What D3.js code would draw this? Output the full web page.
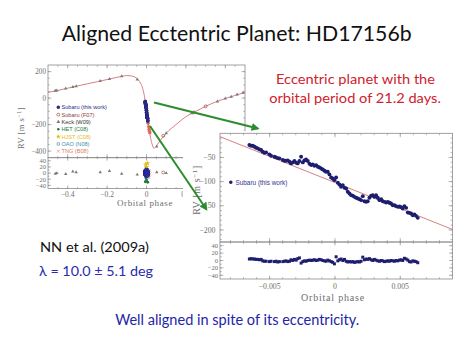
<!DOCTYPE html>
<html><head><meta charset="utf-8">
<script src="https://cdn.jsdelivr.net/npm/d3@7"></script>
<style>body{margin:0;background:#fff}svg{display:block}</style>
</head><body>
<svg id="c" width="474" height="355"></svg>
<script>
// ---------------- DATA ----------------
// Subaru (this work) RM sequence: orbital phase, RV [m/s], residual [m/s]
const subaruPhase = [-0.00655,-0.00642,-0.00629,-0.00616,-0.00604,-0.00591,-0.00578,-0.00565,-0.00553,-0.00540,-0.00527,
 -0.00502,-0.00489,-0.00463,-0.00451,-0.00438,-0.00425,
 -0.00399,-0.00387,-0.00374,-0.00361,-0.00348,-0.00336,-0.00323,-0.00310,-0.00297,-0.00285,
 -0.00272,-0.00259,-0.00246,-0.00234,-0.00221,-0.00208,-0.00195,-0.00182,-0.00170,-0.00157,
 -0.00144,-0.00131,-0.00119,-0.00106,-0.00093,-0.00080,-0.00068,-0.00055,-0.00042,-0.00029,
 -0.00017,-0.00004,0.00009,0.00022,0.00034,0.00047,0.00060,0.00073,0.00086,0.00098,
 0.00111,0.00124,0.00137,0.00149,0.00162,0.00175,0.00188,0.00200,0.00213,0.00226,
 0.00239,0.00251,0.00264,0.00277,0.00290,0.00302,0.00315,0.00328,0.00341,0.00354,
 0.00366,0.00379,0.00392,0.00405,0.00417,0.00430,0.00443,0.00456,0.00468,0.00481,
 0.00494,0.00507,0.00519,0.00532,0.00545,0.00558,0.00570,0.00583,0.00596,0.00609,
 0.00621,0.00634];
const subaruRV = [-24.3,-25.7,-25.7,-27.7,-29.8,-31.2,-33.3,-34.6,-38.1,-40.2,-39.5,
 -43.6,-46.4,-48.5,-49.9,-51.3,-51.9,
 -55.4,-56.8,-56.8,-56.1,-58.9,-62.3,-60.2,-57.5,-60.9,-62.3,
 -57.5,-48.5,-60.2,-56.1,-54.0,-57.5,-63.0,-65.8,-64.4,-67.2,
 -65.8,-69.2,-70.6,-72.7,-74.8,-77.5,-79.6,-79.6,-85.1,-91.4,
 -93.5,-97.0,-91.4,-102.4,-105.9,-110.7,-107.2,-112.8,-114.2,-121.1,
 -124.5,-128.0,-129.4,-131.5,-133.5,-134.9,-136.3,-138.4,-130.1,-140.5,
 -141.9,-140.5,-133.5,-129.4,-128.0,-131.5,-128.0,-133.5,-138.4,-136.3,
 -140.5,-141.9,-143.2,-141.9,-143.9,-145.3,-148.8,-148.8,-150.8,-152.2,
 -151.5,-152.9,-155.7,-150.8,-154.3,-164.0,-164.7,-166.0,-169.5,-168.1,
 -170.9,-175.0];
const subaruRes = [4,5,4,4,3,3,2,3,-1,-2,-2,
 -3,-2,-3,-2,-4,-3,
 -3,-2,-1,-3,-2,2,0,3,1,5,
 7,-7,-3,-1,-2,0,1,0,1,2,
 0,1,3,2,0,-1,-2,1,-1,-3,
 -5,-9,10,-1,2,4,0,3,-2,-4,
 -3,-4,-3,-5,-4,-3,-4,-2,9,2,
 4,3,5,2,0,3,1,-1,-2,0,
 -1,-3,-2,-1,-2,0,-1,-2,0,-1,
 1,2,0,6,4,1,-3,-4,-1,-2,
 -3,-6];

// Orbital model over the full phase range
const curvePhase = [-0.5,-0.45,-0.4,-0.35,-0.3,-0.25,-0.2,-0.15,-0.12,-0.1,-0.08,-0.06,-0.05,-0.04,-0.03,-0.02,-0.01,0,0.01,0.02,0.03,0.037,0.045,0.06,0.08,0.1,0.15,0.2,0.25,0.3,0.35,0.4,0.45,0.5];
const curveRV    = [43,58,75,92,108,124,140,157,166,170,168,160,150,135,112,75,10,-103,-205,-295,-355,-378,-372,-340,-300,-265,-200,-140,-100,-62,-30,-3,20,43];
// Orbital model in the zoomed panel
const zoomModelPhase = [-0.0088, 0.0090];
const zoomModelRV    = [-7, -199];

// Other data sets (left panel)
const keckPhase = [-0.463,-0.455,-0.41,-0.374,-0.357,-0.235,-0.188,-0.126,-0.047,0.052,0.10,0.23,0.36,0.40,0.43,0.46,0.49];
const keckRV    = [55,58,72,84,90,129,144,165,140,-365,-265,-115,-25,-3,10,28,40];
const keckRes   = [-2,0,-3,5,3,3,7,-2,-5,3,0,2,-3,4,0,-2,1];
const f07Phase = [0.085,0.24,0.30];
const f07RV    = [-285,-108,-62];
const f07Res   = [2,3,-4];
const hetPhase = [-0.006,-0.003,0.0,0.002,0.004,0.006,-0.001];
const hetRV    = [-38,-70,-103,-125,-146,-168,-92];
const hetRes   = [-28,-15,-22,-10,12,-30,18];
const hjstPhase = [-0.004,0.001,0.005];
const hjstRV    = [-60,-114,-157];
const hjstRes   = [28,20,32];
const oaoPhase = [-0.005,0.003];
const oaoRV    = [-49,-135];
const oaoRes   = [10,-12];
const tngPhase = [0.008,0.011,0.013,0.015,0.017];
const tngRV    = [-190,-215,-235,-250,-262];
const tngRes   = [-8,5,-15,8,-3];

const legendLabels = ["Subaru (this work)","Subaru (F07)","Keck (W09)","HET (C08)","HJST (C08)","OAO (N08)","TNG (B08)"];
const legendColors = ["#2a2a82","#8a3a3a","#333333","#1d7a3c","#e0c020","#3f8fa8","#e07a66"];

const leftXTicks = [-0.4,-0.2,0,0.2,0.4];
const leftYTicks = [-400,-200,0,200];
const leftResTicks = [-40,-20,0,20,40];
const rightXTicks = [-0.005,0,0.005];
const rightYTicks = [-200,-150,-100,-50];
const rightResTicks = [-40,-20,0,20,40];

// ---------------- DRAW ----------------
const svg = d3.select('#c');
svg.append('rect').attr('width',474).attr('height',355).attr('fill','#fff');
const AX = '#8a8a8a', LAB = '#6e6e6e';
const SERIF = '"Liberation Serif","DejaVu Serif",serif';
const SANS = '"Liberation Sans",Arial,sans-serif';
const LATO = 'Lato,"Open Sans",sans-serif';
const minus = s => String(s).replace('-', '\u2212');

function frame(g, xs, ys, xMaj, xMin, yMaj, yMin, lenMaj, lenMin) {
  const [x0,x1] = xs.range(), [y0,y1] = ys.range();
  g.append('rect').attr('x',x0).attr('y',y1).attr('width',x1-x0).attr('height',y0-y1)
    .attr('fill','none').attr('stroke',AX).attr('stroke-width',0.8);
  const t = g.append('g').attr('stroke',AX).attr('stroke-width',0.6);
  const xt = (vals,len) => vals.forEach(v => { const x = xs(v); if (x<=x0+0.5||x>=x1-0.5) return;
    t.append('line').attr('x1',x).attr('x2',x).attr('y1',y0).attr('y2',y0-len);
    t.append('line').attr('x1',x).attr('x2',x).attr('y1',y1).attr('y2',y1+len); });
  const yt = (vals,len) => vals.forEach(v => { const y = ys(v); if (y>=y0-0.5||y<=y1+0.5) return;
    t.append('line').attr('y1',y).attr('y2',y).attr('x1',x0).attr('x2',x0+len);
    t.append('line').attr('y1',y).attr('y2',y).attr('x1',x1).attr('x2',x1-len); });
  xt(xMin,lenMin); xt(xMaj,lenMaj); yt(yMin,lenMin); yt(yMaj,lenMaj);
}
function sym(type, size){ return d3.symbol().type(type).size(size)(); }

// ----- Left plot -----
const xL = d3.scaleLinear([-0.5,0.5],[48,245]);
const yL = d3.scaleLinear([-450,250],[157.7,65]);
const yLr = d3.scaleLinear([-50,50],[188.5,157.7]);
const gL = svg.append('g');
frame(gL, xL, yL, leftXTicks, d3.range(-0.5,0.51,0.05), leftYTicks, d3.range(-450,251,50), 3.5, 1.8);
frame(gL, xL, yLr, leftXTicks, d3.range(-0.5,0.51,0.05), leftResTicks, d3.range(-50,51,10), 3, 1.5);
gL.append('path').datum(curvePhase.map((p,i)=>[p,curveRV[i]]))
  .attr('d', d3.line().x(d=>xL(d[0])).y(d=>yL(d[1])).curve(d3.curveMonotoneX))
  .attr('fill','none').attr('stroke','#d77070').attr('stroke-width',0.9);

function plotSet(g, xs, ys, ph, vals, type, size, fill, stroke) {
  g.append('g').selectAll('path').data(ph.map((p,i)=>[p,vals[i]])).join('path')
    .attr('d', sym(type,size)).attr('transform', d=>`translate(${xs(d[0])},${ys(d[1])})`)
    .attr('fill', fill).attr('stroke', stroke||'none').attr('stroke-width',0.6);
}
// main
plotSet(gL,xL,yL,keckPhase,keckRV,d3.symbolTriangle,5,'#7a7a7a');
plotSet(gL,xL,yL,f07Phase,f07RV,d3.symbolCircle,7,'none','#8a3a3a');
plotSet(gL,xL,yL,tngPhase,tngRV,d3.symbolCircle,9,'#e06a5a');
plotSet(gL,xL,yL,hetPhase,hetRV,d3.symbolCircle,5,'#1d7a3c');
plotSet(gL,xL,yL,subaruPhase,subaruRV,d3.symbolCircle,9,'#2a2a82');
// residual
plotSet(gL,xL,yLr,keckPhase,keckRes,d3.symbolTriangle,5,'#7a7a7a');
plotSet(gL,xL,yLr,f07Phase,f07Res,d3.symbolCircle,7,'none','#8a3a3a');
plotSet(gL,xL,yLr,hetPhase,hetRes,d3.symbolCircle,7,'#1d7a3c');
plotSet(gL,xL,yLr,hjstPhase,hjstRes,d3.symbolStar,10,'#e0c020');
plotSet(gL,xL,yLr,oaoPhase,oaoRes,d3.symbolSquare,7,'none','#3f8fa8');
plotSet(gL,xL,yLr,tngPhase,tngRes,d3.symbolTimes,7,'none','#e07a66');
plotSet(gL,xL,yLr,subaruPhase,subaruRes,d3.symbolCircle,16,'#2a2a9a');

// legend
const legSyms = [[d3.symbolCircle,10,'#2a2a82',null],[d3.symbolCircle,7,'none','#8a3a3a'],[d3.symbolTriangle,6,'#777',null],
  [d3.symbolCircle,5,'#1d7a3c',null],[d3.symbolStar,8,'#e0c020',null],[d3.symbolSquare,6,'none','#3f8fa8'],[d3.symbolTimes,6,'none','#e07a66']];
const leg = gL.append('g');
legendLabels.forEach((lab,i)=>{
  const y = 107.3 + i*7.33;
  const s = legSyms[i];
  leg.append('path').attr('d',sym(s[0],s[1])).attr('transform',`translate(58.3,${y})`)
    .attr('fill',s[2]).attr('stroke',s[3]||'none').attr('stroke-width',0.6);
  leg.append('text').attr('x',61.5).attr('y',y+2).attr('font-family',SANS).attr('font-size',5.6)
    .attr('fill',legendColors[i]).text(lab);
});
// left tick labels
gL.append('g').selectAll('text').data(leftYTicks).join('text')
  .attr('x',46).attr('y',d=>yL(d)+2.5).attr('text-anchor','end').attr('font-family',SERIF).attr('font-size',7.2)
  .attr('fill',LAB).text(d=>minus(d));
gL.append('g').selectAll('text').data(leftResTicks).join('text')
  .attr('x',46).attr('y',d=>yLr(d)+2.3).attr('text-anchor','end').attr('font-family',SERIF).attr('font-size',6.4)
  .attr('fill',LAB).text(d=>minus(d));
gL.append('g').selectAll('text').data(leftXTicks).join('text')
  .attr('x',d=>xL(d)).attr('y',197).attr('text-anchor','middle').attr('font-family',SERIF).attr('font-size',7.5)
  .attr('fill',LAB).text(d=>minus(d));
gL.append('text').attr('x',145).attr('y',206).attr('text-anchor','middle').attr('font-family',SERIF)
  .attr('font-size',9).attr('letter-spacing',0.6).attr('fill',LAB).text('Orbital phase');
const rvL = gL.append('text').attr('transform','translate(24,128) rotate(-90)').attr('text-anchor','middle')
  .attr('font-family',SERIF).attr('font-size',8.5).attr('letter-spacing',0.5).attr('fill',LAB);
rvL.append('tspan').text('RV [m s');
rvL.append('tspan').attr('dy',-3).attr('font-size',6).text('\u22121');
rvL.append('tspan').attr('dy',3).text(']');

// ----- Right plot -----
const gR = svg.append('g');
gR.append('rect').attr('x',183).attr('y',131).attr('width',291).attr('height',174).attr('fill','#fff');
const xR = d3.scaleLinear([-0.0088,0.0090],[220,452.5]);
const yR = d3.scaleLinear([-225,0],[242,133.3]);
const yRr = d3.scaleLinear([-50,50],[279,242]);
frame(gR, xR, yR, rightXTicks, d3.range(-0.008,0.0091,0.001), rightYTicks, d3.range(-220,1,10), 4, 2);
frame(gR, xR, yRr, rightXTicks, d3.range(-0.008,0.0091,0.001), rightResTicks, d3.range(-50,51,10), 3.5, 1.8);
gR.append('path').datum(zoomModelPhase.map((p,i)=>[p,zoomModelRV[i]]))
  .attr('d', d3.line().x(d=>xR(d[0])).y(d=>yR(d[1])))
  .attr('fill','none').attr('stroke','#d77070').attr('stroke-width',0.9);
plotSet(gR,xR,yR,subaruPhase,subaruRV,d3.symbolCircle,12,'#1e1e6e');
plotSet(gR,xR,yRr,subaruPhase,subaruRes,d3.symbolSquare,9,'#1e1e6e');
// legend
gR.append('path').attr('d',sym(d3.symbolCircle,10)).attr('transform','translate(230.8,182.3)').attr('fill','#1e1e6e');
gR.append('text').attr('x',235.5).attr('y',184.6).attr('font-family',SANS).attr('font-size',6.4)
  .attr('fill','#34348c').text('Subaru (this work)');
// tick labels
gR.append('g').selectAll('text').data(rightYTicks).join('text')
  .attr('x',215.5).attr('y',d=>yR(d)+2.7).attr('text-anchor','end').attr('font-family',SERIF).attr('font-size',7.8)
  .attr('fill',LAB).text(d=>minus(d));
gR.append('g').selectAll('text').data(rightResTicks).join('text')
  .attr('x',218).attr('y',d=>yRr(d)+2.3).attr('text-anchor','end').attr('font-family',SERIF).attr('font-size',6.6)
  .attr('fill',LAB).text(d=>minus(d));
gR.append('g').selectAll('text').data(rightXTicks).join('text')
  .attr('x',d=>xR(d)).attr('y',289).attr('text-anchor','middle').attr('font-family',SERIF).attr('font-size',7.8)
  .attr('fill',LAB).text(d=>minus(d));
gR.append('text').attr('x',333).attr('y',300.5).attr('text-anchor','middle').attr('font-family',SERIF)
  .attr('font-size',10).attr('letter-spacing',0.8).attr('fill',LAB).text('Orbital phase');
const rvR = gR.append('text').attr('transform','translate(200,190) rotate(-90)').attr('text-anchor','middle')
  .attr('font-family',SERIF).attr('font-size',10).attr('letter-spacing',0.6).attr('fill',LAB);
rvR.append('tspan').text('RV [m s');
rvR.append('tspan').attr('dy',-3.5).attr('font-size',7).text('\u22121');
rvR.append('tspan').attr('dy',3.5).text(']');

// ----- Arrows -----
const defs = svg.append('defs');
defs.append('marker').attr('id','ah').attr('viewBox','0 0 10 10').attr('refX',8).attr('refY',5)
  .attr('markerWidth',4).attr('markerHeight',4).attr('orient','auto')
  .append('path').attr('d','M0,0 L10,5 L0,10 z').attr('fill','#2e8b2e');
const arrows = [[154,102.5,258,128.5],[150,126,206.5,209.5]];
svg.append('g').selectAll('line').data(arrows).join('line')
  .attr('x1',d=>d[0]).attr('y1',d=>d[1]).attr('x2',d=>d[2]).attr('y2',d=>d[3])
  .attr('stroke','#2e8b2e').attr('stroke-width',2).attr('marker-end','url(#ah)');

// ----- Slide text -----
svg.append('text').attr('x',236.7).attr('y',41).attr('text-anchor','middle').attr('font-family',LATO)
  .attr('font-size',21).attr('fill','#111').attr('textLength',350).attr('lengthAdjust','spacingAndGlyphs')
  .text('Aligned Ecctentric Planet: HD17156b');
svg.append('text').attr('x',355.5).attr('y',84.3).attr('text-anchor','middle').attr('font-family',LATO)
  .attr('font-size',13.2).attr('fill','#d0212d').attr('textLength',159).attr('lengthAdjust','spacingAndGlyphs')
  .text('Eccentric planet with the');
svg.append('text').attr('x',355).attr('y',102.7).attr('text-anchor','middle').attr('font-family',LATO)
  .attr('font-size',13.2).attr('fill','#d0212d').attr('textLength',171.7).attr('lengthAdjust','spacingAndGlyphs')
  .text('orbital period of 21.2 days.');
svg.append('text').attr('x',40).attr('y',252.3).attr('font-family',LATO)
  .attr('font-size',14).attr('fill','#111').attr('textLength',109).attr('lengthAdjust','spacingAndGlyphs')
  .text('NN et al. (2009a)');
svg.append('text').attr('x',39).attr('y',275.7).attr('font-family',LATO)
  .attr('font-size',14).attr('fill','#2b2bb0').attr('textLength',114).attr('lengthAdjust','spacingAndGlyphs')
  .text('\u03bb = 10.0 \u00b1 5.1 deg');
svg.append('text').attr('x',237.2).attr('y',325).attr('text-anchor','middle').attr('font-family',LATO)
  .attr('font-size',14.5).attr('fill','#2424a8').attr('textLength',244).attr('lengthAdjust','spacingAndGlyphs')
  .text('Well aligned in spite of its eccentricity.');
</script>
</body></html>
